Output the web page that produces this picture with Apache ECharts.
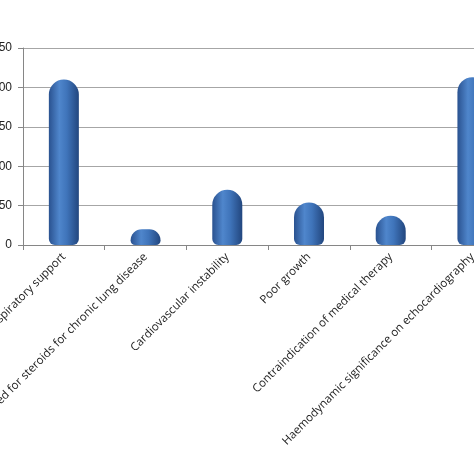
<!DOCTYPE html>
<html>
<head>
<meta charset="utf-8">
<script src="https://cdn.jsdelivr.net/npm/echarts@6/dist/echarts.min.js"></script>
<style>
  html, body { margin: 0; padding: 0; overflow: hidden; background: #fff; }
  #chart { position: absolute; left: -22px; top: 0; width: 660px; height: 474px; }
</style>
</head>
<body>
<div id="chart"></div>
<script>
const categories = [
  "Need for respiratory support",
  "Need for steroids for chronic lung disease",
  "Cardiovascular instability",
  "Poor growth",
  "Contraindication of medical therapy",
  "Haemodynamic significance on echocardiography",
  "Other"
];
const values = [210, 20, 70, 54, 37, 213, 10];
const yTicks = [0, 50, 100, 150, 200, 250];

const chart = echarts.init(document.getElementById("chart"));

const cylinder = new echarts.graphic.LinearGradient(0, 0, 1, 0, [
  { offset: 0, color: "#2a5290" },
  { offset: 0.35, color: "#4f86cc" },
  { offset: 0.6, color: "#3f74ba" },
  { offset: 1, color: "#22467e" }
]);

chart.setOption({
  animation: false,
  grid: {
    left: 45, right: 43, top: 48, bottom: 229,
    containLabel: false, outerBoundsMode: "none"
  },
  xAxis: {
    type: "category",
    data: categories,
    axisLine: { lineStyle: { color: "#868686" } },
    axisTick: { show: true, lineStyle: { color: "#868686" } },
    axisLabel: {
      rotate: 45, interval: 0, color: "#222", fontSize: 11.5,
      fontFamily: "Open Sans", margin: 10
    }
  },
  yAxis: {
    type: "value",
    min: yTicks[0],
    max: yTicks[yTicks.length - 1],
    interval: 50,
    axisLine: { show: true, lineStyle: { color: "#868686" } },
    axisTick: { show: true, lineStyle: { color: "#868686" } },
    splitLine: { lineStyle: { color: "#a6a6a6" } },
    axisLabel: { color: "#222", fontSize: 12, fontFamily: "Liberation Sans", margin: 11 }
  },
  series: [{
    type: "bar",
    data: values,
    barWidth: 30,
    itemStyle: {
      color: cylinder,
      borderRadius: [15, 15, 6, 6]
    }
  }]
});
</script>
</body>
</html>
